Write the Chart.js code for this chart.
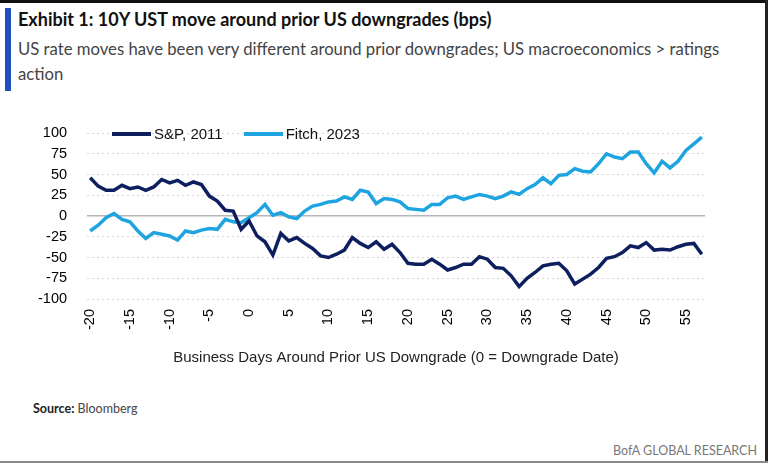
<!DOCTYPE html>
<html>
<head>
<meta charset="utf-8">
<script src="https://cdn.jsdelivr.net/npm/chart.js@4.4.1/dist/chart.umd.min.js"></script>
<style>
  html, body { margin: 0; padding: 0; background: #fff; }
  body { width: 768px; height: 463px; position: relative; overflow: hidden; font-family: Lato, "Open Sans", sans-serif; }
  .frame-top { position: absolute; left: 0; top: 0; width: 768px; height: 3px; background: #111; }
  .frame-right { position: absolute; right: 0; top: 0; width: 3px; height: 463px; background: #222; }
  .frame-bottom { position: absolute; left: 0; bottom: 0; width: 768px; height: 2px; background: #8a8a8a; }
  .bar { position: absolute; left: 5px; top: 8px; width: 6px; height: 83px; background: #1f4fc0; }
  h1 { position: absolute; left: 18px; top: 8px; margin: 0; font: bold 18px Lato, sans-serif; color: #111; white-space: nowrap; }
  .sub { position: absolute; left: 18px; top: 37px; width: 725px; font: 16.7px Lato, sans-serif; line-height: 25px; color: #444; }
  #wrap { position: absolute; left: 0; top: 100px; width: 740px; height: 280px; }
  #legend { position: absolute; left: 112px; top: 125px; font: 15px "Liberation Sans", Arial, sans-serif; color: #111; white-space: nowrap; }
  #legend .item { display: inline-block; margin-right: 21px; }
  #legend .swatch { display: inline-block; width: 39px; height: 4px; vertical-align: middle; margin-right: 3px; position: relative; top: -1px; }
  .source { position: absolute; left: 33px; top: 401px; font: 12.5px Lato, sans-serif; color: #444; }
  .source b { color: #222; }
  .brand { position: absolute; right: 11px; top: 443px; font: 12.5px Lato, sans-serif; color: #777; }
</style>
</head>
<body>
<div class="frame-top"></div>
<div class="frame-right"></div>
<div class="frame-bottom"></div>
<div class="bar"></div>
<h1>Exhibit 1: 10Y UST move around prior US downgrades (bps)</h1>
<div class="sub">US rate moves have been very different around prior downgrades; US macroeconomics &gt; ratings action</div>
<div id="wrap"><canvas id="chart" width="740" height="280"></canvas></div>
<div id="legend"></div>
<div class="source"><b>Source:</b> Bloomberg</div>
<div class="brand">BofA GLOBAL RESEARCH</div>

<script>
// Business days around the downgrade date (0 = downgrade date)
const days = Array.from({ length: 78 }, (_, i) => i - 20);

// 10Y UST move in bps
const sp2011 = [
    46, 36, 31, 31, 37, 33, 35, 31, 35, 44,
    40, 43, 37, 41, 38, 24, 18, 7, 6, -16,
    -6, -24, -31, -47, -21, -30, -26, -33, -39, -48,
    -50, -46, -41, -26, -33, -38, -31, -40, -34, -44,
    -57, -58, -58, -52, -58, -65, -62, -58, -58, -49,
    -52, -62, -63, -72, -85, -75, -68, -60, -58, -57,
    -66, -82, -76, -70, -62, -51, -49, -44, -36, -38,
    -32, -41, -40, -41, -37, -34, -33, -46
];
const fitch2023 = [
    -18, -11, -2, 3, -4, -7, -18, -27, -20, -22,
    -24, -29, -18, -20, -17, -15, -16, -4, -7, -8,
    -2, 4, 14, 1, 4, -1, -3, 6, 12, 14,
    17, 18, 23, 20, 31, 29, 15, 21, 20, 17,
    9, 8, 7, 14, 14, 22, 24, 20, 23, 26,
    24, 21, 24, 29, 26, 33, 38, 46, 39, 49,
    50, 57, 54, 53, 63, 75, 71, 69, 77, 77,
    63, 52, 66, 58, 66, 79, 87, 95
];

const seriesNames = ['S&P, 2011', 'Fitch, 2023'];
const seriesColors = ['#0d1f5e', '#1ea4e0'];
const yTicks = [-100, -75, -50, -25, 0, 25, 50, 75, 100];
const xTitle = 'Business Days Around Prior US Downgrade (0 = Downgrade Date)';

const toPoints = (vals) => vals.map((v, i) => ({ x: days[i], y: v }));

const ctx = document.getElementById('chart').getContext('2d');
Chart.defaults.font.family = "'Liberation Sans', Arial, sans-serif";

const chart = new Chart(ctx, {
    type: 'line',
    data: {
        datasets: [sp2011, fitch2023].map((vals, i) => ({
            label: seriesNames[i],
            data: toPoints(vals),
            borderColor: seriesColors[i],
            backgroundColor: seriesColors[i],
            borderWidth: 3.5,
            pointRadius: 0,
            tension: 0
        }))
    },
    options: {
        responsive: false,
        animation: false,
        devicePixelRatio: 1,
        layout: { padding: { left: 18, right: 35, top: 33, bottom: 13 } },
        scales: {
            x: {
                type: 'linear',
                min: -20.4,
                max: 57.4,
                grid: { display: false, drawTicks: false },
                border: { display: false },
                ticks: {
                    stepSize: 5,
                    includeBounds: false,
                    autoSkip: false,
                    minRotation: 90,
                    maxRotation: 90,
                    padding: 10,
                    color: '#000',
                    font: { size: 14.5 }
                },
                title: {
                    display: true,
                    text: xTitle,
                    color: '#222',
                    font: { size: 15 },
                    padding: { top: 9, bottom: 0 }
                }
            },
            y: {
                min: yTicks[0],
                max: yTicks[yTicks.length - 1],
                afterBuildTicks: (axis) => { axis.ticks = yTicks.map(v => ({ value: v })); },
                grid: {
                    drawTicks: false,
                    color: (c) => c.tick && c.tick.value === 0 ? '#b5b5b5' : '#d4d4d4',
                    lineWidth: (c) => c.tick && c.tick.value === 0 ? 1.5 : 1
                },
                border: {
                    display: false,
                    dash: (c) => c.tick && c.tick.value === 0 ? [] : [2, 3]
                },
                ticks: {
                    autoSkip: false,
                    padding: 20,
                    color: '#000',
                    font: { size: 14.5 }
                }
            }
        },
        plugins: {
            legend: { display: false },
            tooltip: { enabled: false }
        }
    }
});

// Legend drawn as HTML over the top of the plot area
const legend = document.getElementById('legend');
chart.data.datasets.forEach(ds => {
    const item = document.createElement('span');
    item.className = 'item';
    const sw = document.createElement('span');
    sw.className = 'swatch';
    sw.style.background = ds.borderColor;
    item.appendChild(sw);
    item.appendChild(document.createTextNode(ds.label));
    legend.appendChild(item);
});
</script>
</body>
</html>
